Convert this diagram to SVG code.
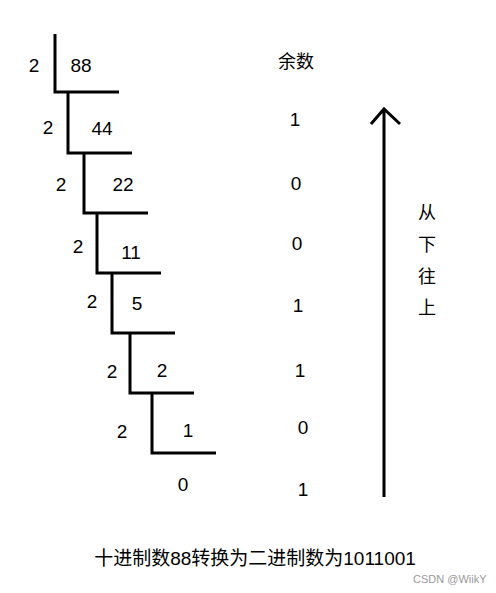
<svg xmlns="http://www.w3.org/2000/svg" width="496" height="593" viewBox="0 0 496 593">
<style>
text{font-family:"Liberation Sans","Noto Sans CJK SC",sans-serif;font-size:19px;fill:#000;text-anchor:middle}
.ln{stroke:#000;stroke-width:3;fill:none;stroke-linecap:butt;stroke-linejoin:miter}
.cn{font-size:18px}
.wm{font-size:11px;fill:#999;text-anchor:start}
</style>
<rect width="496" height="593" fill="#fff"/>
<g id="connectors">
<path class="ln" d="M55,34 V92 H119"/>
<path class="ln" d="M68,92 V153 H132"/>
<path class="ln" d="M84,153 V213 H148"/>
<path class="ln" d="M97,213 V273 H161"/>
<path class="ln" d="M112,273 V333 H175"/>
<path class="ln" d="M130,333 V393 H194"/>
<path class="ln" d="M152,393 V453 H216"/>
<path id="arrow" class="ln" d="M384,497 V109 M371,124 L384,109 L400,124"/>
</g>
<g id="divisions">
<g id="n88"><text x="34" y="72">2</text><text x="81" y="72">88</text></g>
<g id="n44"><text x="48" y="134">2</text><text x="102" y="135">44</text></g>
<g id="n22"><text x="61" y="191">2</text><text x="123" y="191">22</text></g>
<g id="n11"><text x="78" y="253">2</text><text x="131" y="259">11</text></g>
<g id="n5"><text x="92" y="308">2</text><text x="137" y="310">5</text></g>
<g id="n2"><text x="112" y="378">2</text><text x="162" y="377">2</text></g>
<g id="n1"><text x="122" y="438">2</text><text x="188" y="437">1</text></g>
<g id="n0"><text x="183" y="491">0</text></g>
</g>
<g id="remainders">
<text class="cn" x="296" y="68">余数</text>
<text x="295" y="126">1</text>
<text x="296" y="190">0</text>
<text x="297" y="250">0</text>
<text x="298" y="312">1</text>
<text x="300" y="377">1</text>
<text x="303" y="434">0</text>
<text x="303" y="496">1</text>
</g>
<g id="direction">
<text class="cn" x="427" y="219">从</text>
<text class="cn" x="427" y="251">下</text>
<text class="cn" x="427" y="283">往</text>
<text class="cn" x="427" y="314">上</text>
</g>
<g id="caption">
<text x="255" y="565">十进制数88转换为二进制数为1011001</text>
</g>
<text class="wm" x="413" y="583">CSDN @WiikY</text>
</svg>
